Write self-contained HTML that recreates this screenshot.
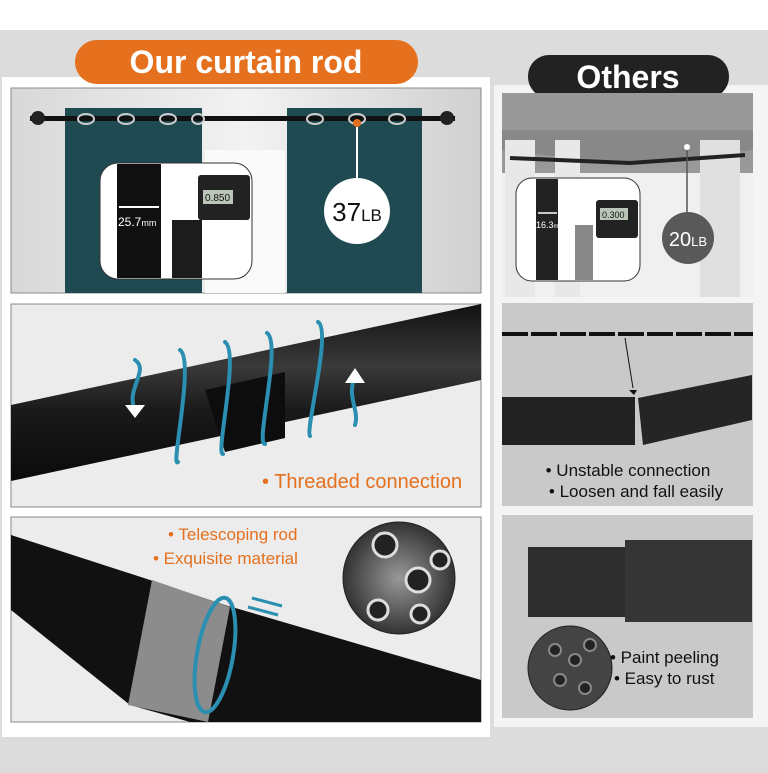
<!DOCTYPE html>
<html><head><meta charset="utf-8"><style>
body{margin:0;width:768px;height:768px;overflow:hidden;background:#dcdcdc;font-family:"Liberation Sans",sans-serif}
</style></head><body>
<svg width="768" height="768" viewBox="0 0 768 768" xmlns="http://www.w3.org/2000/svg" font-family="Liberation Sans, sans-serif">
<defs>
<linearGradient id="rod" x1="0" y1="0" x2="0" y2="1"><stop offset="0" stop-color="#111"/><stop offset=".35" stop-color="#3a3a3a"/><stop offset=".6" stop-color="#1a1a1a"/><stop offset="1" stop-color="#0a0a0a"/></linearGradient>
<linearGradient id="bg1" x1="0" y1="0" x2="1" y2="0"><stop offset="0" stop-color="#d8d8d8"/><stop offset=".5" stop-color="#f2f2f2"/><stop offset="1" stop-color="#d0d0d0"/></linearGradient>
<radialGradient id="pipes" cx=".5" cy=".5" r=".5"><stop offset="0" stop-color="#999"/><stop offset="1" stop-color="#333"/></radialGradient>
</defs>
<rect width="768" height="768" fill="#dcdcdc"/>
<rect x="0" y="0" width="768" height="30" fill="#fff"/>
<rect x="2" y="77" width="488" height="660" fill="#fff"/>
<rect x="494" y="85" width="274" height="642" fill="#f4f4f4"/>
<!-- titles -->
<rect x="75" y="40" width="343" height="44" rx="22" fill="#e5701e"/>
<text x="246" y="73" font-size="32" font-weight="bold" fill="#fff" text-anchor="middle">Our curtain rod</text>
<rect x="528" y="55" width="201" height="43" rx="21" fill="#222"/>
<text x="628" y="88" font-size="32" font-weight="bold" fill="#fff" text-anchor="middle">Others</text>

<!-- left panel 1 -->
<rect x="11" y="88" width="470" height="205" fill="url(#bg1)" stroke="#888"/>
<rect x="205" y="150" width="80" height="143" fill="#fafafa"/>
<rect x="65" y="108" width="137" height="185" fill="#1f4a52"/>
<rect x="287" y="108" width="135" height="185" fill="#1f4a52"/>
<rect x="30" y="116" width="425" height="5" fill="#111"/>
<circle cx="38" cy="118" r="7" fill="#222"/><circle cx="447" cy="118" r="7" fill="#222"/>
<g fill="none" stroke="#ccc" stroke-width="2">
<ellipse cx="86" cy="119" rx="8" ry="5"/><ellipse cx="126" cy="119" rx="8" ry="5"/><ellipse cx="168" cy="119" rx="8" ry="5"/><ellipse cx="198" cy="119" rx="6" ry="5"/>
<ellipse cx="315" cy="119" rx="8" ry="5"/><ellipse cx="357" cy="119" rx="8" ry="5"/><ellipse cx="397" cy="119" rx="8" ry="5"/></g>
<circle cx="357" cy="123" r="4" fill="#e5701e"/>
<line x1="357" y1="127" x2="357" y2="180" stroke="#fff" stroke-width="2"/>
<circle cx="357" cy="211" r="33" fill="#fff"/>
<text x="357" y="221" font-size="26" text-anchor="middle" fill="#111">37<tspan font-size="17">LB</tspan></text>
<rect x="100" y="163" width="152" height="116" rx="18" fill="#fff" stroke="#333"/>
<rect x="117" y="164" width="44" height="114" fill="#111"/>
<rect x="172" y="220" width="30" height="58" fill="#1c1c1c"/>
<rect x="198" y="175" width="52" height="45" fill="#222" rx="3"/>
<rect x="203" y="190" width="30" height="14" fill="#bcc6b8"/>
<text x="205" y="201" font-size="10" fill="#111">0.850</text>
<line x1="119" y1="207" x2="159" y2="207" stroke="#fff" stroke-width="2"/>
<text x="118" y="226" font-size="12" fill="#fff">25.7<tspan font-size="9">mm</tspan></text>

<!-- right panel 1 -->
<rect x="502" y="93" width="251" height="204" fill="#f0f0f0"/>
<path d="M502 93h251v80H502z" fill="#999"/>
<path d="M502 130L753 130L753 150L630 165L502 150z" fill="#888"/>
<rect x="505" y="140" width="30" height="157" fill="#e8e8e8"/>
<rect x="555" y="140" width="25" height="157" fill="#e8e8e8"/>
<rect x="700" y="140" width="40" height="157" fill="#e0e0e0"/>
<path d="M510 158 L630 163 L745 155" stroke="#222" stroke-width="4" fill="none"/>
<circle cx="687" cy="147" r="3" fill="#fff"/>
<line x1="687" y1="150" x2="687" y2="215" stroke="#555" stroke-width="1.5"/>
<circle cx="688" cy="238" r="26" fill="#595959"/>
<text x="688" y="246" font-size="20" text-anchor="middle" fill="#fff">20<tspan font-size="13">LB</tspan></text>
<rect x="516" y="178" width="124" height="103" rx="16" fill="#fff" stroke="#333"/>
<rect x="536" y="179" width="22" height="101" fill="#222"/>
<rect x="575" y="225" width="18" height="55" fill="#888"/>
<rect x="596" y="200" width="42" height="38" fill="#222" rx="3"/>
<rect x="600" y="208" width="28" height="12" fill="#bcc6b8"/>
<text x="602" y="218" font-size="9" fill="#111">0.300</text>
<line x1="538" y1="213" x2="557" y2="213" stroke="#fff" stroke-width="1.5"/>
<text x="536" y="228" font-size="9" fill="#fff">16.3<tspan font-size="6">mm</tspan></text>

<!-- left panel 2 -->
<rect x="11" y="304" width="470" height="203" fill="#ececec" stroke="#888"/>
<polygon points="11,405 481,304 481,380 11,481" fill="url(#rod)"/>
<polygon points="205,390 285,372 285,438 225,452" fill="#0d0d0d"/>
<g fill="none" stroke="#2a8fb0" stroke-width="4" stroke-linecap="round">
<path d="M135 360 C150 370 125 390 135 410"/>
<path d="M180 350 C195 360 170 470 178 462"/>
<path d="M225 342 C240 352 215 455 223 454"/>
<path d="M267 333 C282 343 255 445 265 444"/>
<path d="M318 322 C332 330 305 430 310 436"/>
<path d="M356 375 C345 395 360 410 355 425"/>
</g>
<polygon points="125,405 145,405 135,418" fill="#fff"/>
<polygon points="345,383 365,383 355,368" fill="#fff"/>
<text x="262" y="488" font-size="20" fill="#e5701e">• Threaded connection</text>

<!-- right panel 2 -->
<rect x="502" y="303" width="251" height="203" fill="#c9c9c9"/>
<line x1="502" y1="334" x2="753" y2="334" stroke="#111" stroke-width="4" stroke-dasharray="26,3"/>
<line x1="625" y1="338" x2="633" y2="388" stroke="#111"/>
<polygon points="629,390 637,390 634,395" fill="#111"/>
<rect x="502" y="397" width="133" height="48" fill="#222"/>
<polygon points="638,398 752,375 752,420 643,445" fill="#252525"/>
<text x="628" y="476" font-size="17" text-anchor="middle" fill="#111">• Unstable connection</text>
<text x="636" y="497" font-size="17" text-anchor="middle" fill="#111">• Loosen and fall easily</text>

<!-- left panel 3 -->
<rect x="11" y="517" width="470" height="205" fill="#ececec" stroke="#888"/>
<polygon points="11,535 150,580 225,605 481,680 481,722 190,722 130,705 11,610" fill="#111"/>
<polygon points="152,580 230,607 208,722 128,705" fill="#8c8c8c"/>
<ellipse cx="215" cy="655" rx="18" ry="58" fill="none" stroke="#2a8fb0" stroke-width="4" transform="rotate(10 215 655)"/>
<path d="M252 598 L282 606 M248 607 L278 615" stroke="#2a8fb0" stroke-width="3"/>
<text x="168" y="540" font-size="17" fill="#e5701e">• Telescoping rod</text>
<text x="153" y="564" font-size="17" fill="#e5701e">• Exquisite material</text>
<circle cx="399" cy="578" r="56" fill="url(#pipes)" stroke="#222"/>
<g fill="#222" stroke="#ddd" stroke-width="3"><circle cx="385" cy="545" r="12"/><circle cx="418" cy="580" r="12"/><circle cx="378" cy="610" r="10"/><circle cx="420" cy="614" r="9"/><circle cx="440" cy="560" r="9"/></g>

<!-- right panel 3 -->
<rect x="502" y="515" width="251" height="203" fill="#c9c9c9"/>
<rect x="528" y="547" width="97" height="70" fill="#2e2e2e"/>
<rect x="625" y="540" width="127" height="82" fill="#353535"/>
<circle cx="570" cy="668" r="42" fill="#444" stroke="#222"/>
<g fill="#222" stroke="#888" stroke-width="2"><circle cx="555" cy="650" r="6"/><circle cx="575" cy="660" r="6"/><circle cx="560" cy="680" r="6"/><circle cx="585" cy="688" r="6"/><circle cx="590" cy="645" r="6"/></g>
<text x="610" y="663" font-size="17" fill="#111">• Paint peeling</text>
<text x="614" y="684" font-size="17" fill="#111">• Easy to rust</text>
</svg>
</body></html>
